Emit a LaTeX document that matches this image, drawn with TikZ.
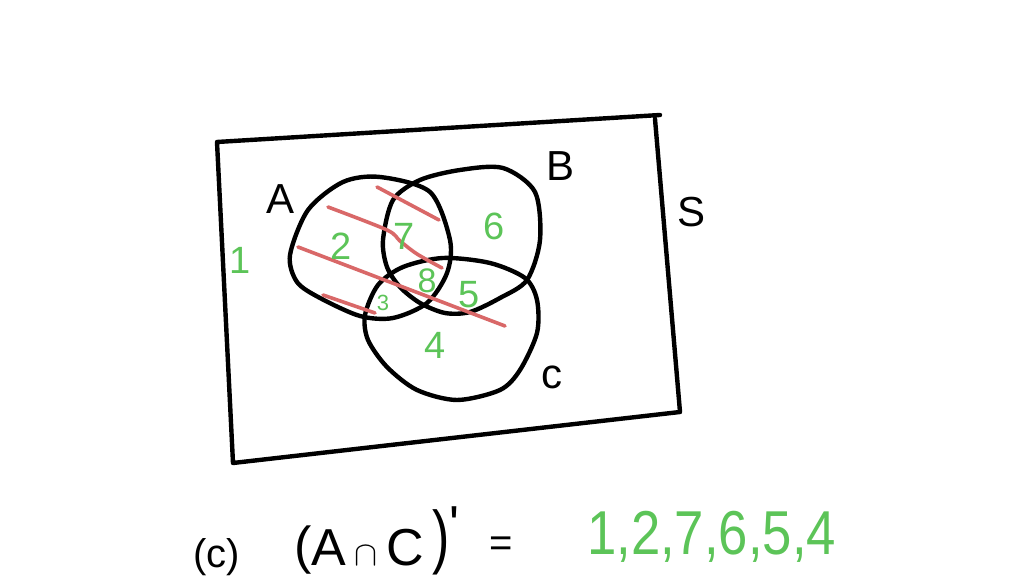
\documentclass[tikz,border=0pt]{standalone}
\usepackage{fontspec}
\setmainfont{Liberation Sans}
\definecolor{hatch}{RGB}{217,104,104}
\definecolor{region}{RGB}{92,196,88}
\begin{document}
\begin{tikzpicture}[x=0.5pt,y=-0.5pt,
    pen/.style={line width=2.2pt,line cap=round,line join=round},
    hatchline/.style={hatch,line width=1.8pt,line cap=round},
    setlabel/.style={font=\fontsize{21}{21}\selectfont},
    regionnum/.style={region,font=\fontsize{19}{19}\selectfont}]
        % Page
        \useasboundingbox[fill=white] (0,0) rectangle (1024,576);
        \clip (0,0) rectangle (1024,576);
        % Universe
        \draw[pen] (660,115) -- (217,142) -- (233,463) -- (680,412) -- (655,119);
        % Sets
        \draw[pen] plot[smooth cycle] coordinates {(290,255) (297,282) (320,298) (360,316) (393,318) (427,303) (447,273) (450,240) (430,192) (380,177) (343,182) (308,210)};
        \draw[pen] plot[smooth cycle] coordinates {(383,240) (387,267) (400,287) (420,303) (445,313) (470,312) (500,298) (527,280) (540,240) (535,192) (503,168) (460,170) (420,180) (393,200)};
        \draw[pen] plot[smooth cycle] coordinates {(365,315) (368,340) (387,367) (417,390) (457,400) (500,390) (520,370) (537,333) (537,300) (525,278) (490,263) (443,258) (403,267) (378,285)};
        % Hatching
        \draw[hatchline] (377,187) -- (439,220);
        \draw[hatchline] plot[smooth] coordinates {(328,207) (387,230) (400,241) (417,254) (442,268)};
        \draw[hatchline] (298,247) -- (505,326);
        \draw[hatchline] (323,295) -- (375,313);
        % Set names
        \node[setlabel] (nameA) at (281,199) {A};
        \node[setlabel] (nameB) at (561,166) {B};
        \node[setlabel] (nameC) at (552,377) {c};
        \node[setlabel] (nameS) at (692,212) {S};
        % Regions
        \node[regionnum] (r1) at (240,260) {1};
        \node[regionnum] (r2) at (341,246) {2};
        \node[regionnum] (r7) at (404,236) {7};
        \node[regionnum] (r6) at (494,226) {6};
        \node[regionnum,font=\fontsize{17}{17}\selectfont] (r8) at (427,281) {8};
        \node[regionnum,font=\fontsize{11}{11}\selectfont] (r3) at (383,303) {3};
        \node[regionnum] (r5) at (469,295) {5};
        \node[regionnum] (r4) at (435,345) {4};
        % Answer
        \node[anchor=base west,font=\fontsize{20}{20}\selectfont] (part) at (186,568) {(c)};
        \node[anchor=base west,font=\fontsize{26}{26}\selectfont] (lhs) at (287,566)
            {\raisebox{0.04em}{(}A\,{\fontsize{18}{18}\selectfont$\cap$}\,C\,\raisebox{0.1em}{\scalebox{1}[1.35]{)}}\raisebox{0.45em}{\textquotesingle}};
        \node[font=\fontsize{20}{20}\selectfont] (eq) at (501,547) {=};
        \node[anchor=base west,region,font=\fontsize{31}{31}\selectfont] (rhs) at (580,555) {\scalebox{0.85}[1]{1,2,7,6,5,4}};
\end{tikzpicture}
\end{document}
